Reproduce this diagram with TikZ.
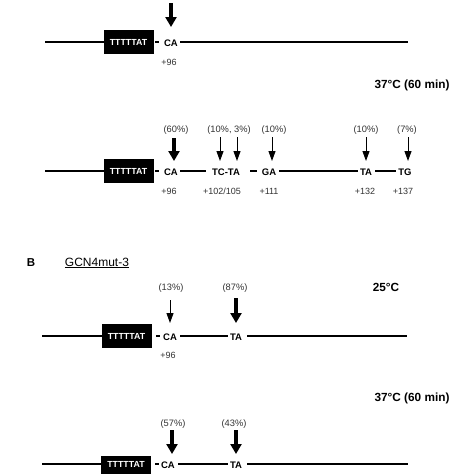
\documentclass[tikz,border=0pt]{standalone}
\usepackage{fontspec}
\setmainfont{Liberation Sans}
\usetikzlibrary{arrows.meta}
\begin{document}
\begin{tikzpicture}[x=1pt,y=-1pt,
  dna/.style={line width=1.7pt},
  boxonly/.style={fill=black,draw=black,minimum width=49pt,minimum height=23pt,inner sep=0pt},
  tata/.style={boxonly,text=white,font=\bfseries\fontsize{8.8}{9}\selectfont},
  boxtext/.style={inner sep=0pt,text=white,font=\bfseries\fontsize{8.8}{9}\selectfont},
  site/.style={inner sep=0pt,font=\bfseries\fontsize{9.5}{10}\selectfont},
  posnum/.style={inner sep=0pt,font=\fontsize{9}{10}\selectfont,text=black!80},
  pct/.style={inner sep=0pt,font=\fontsize{9.3}{10}\selectfont,text=black!80},
  cond/.style={inner sep=0pt,font=\bfseries\fontsize{11.8}{13}\selectfont},
  thickarrow/.style={line width=3.6pt,-{Triangle[width=11pt,length=10pt]}},
  thinarrow/.style={line width=1pt,-{Triangle[width=7pt,length=10pt]}}]
\useasboundingbox (0,0) rectangle (474,474);
\clip (0,0) rectangle (474,474);
\fill[white] (0,0) rectangle (474,474);

% ---------- Row 1 ----------
\coordinate (r1s) at (45,42);
\coordinate (r1e) at (408,42);
\node[tata] (box1) at (128.5,42) {TTTTTAT};
\node[site] (ca1) at (171,43) {CA};
\node[posnum] (p1) at (169,62) {+96};
\coordinate (d1a) at (155,42);
\coordinate (d1b) at (159,42);
\coordinate (l1a) at (180,42);
\draw[dna] (r1s) -- (box1.west);
\draw[dna] (d1a) -- (d1b);
\draw[dna] (l1a) -- (r1e);
\coordinate (a1t) at (171,3);
\coordinate (a1h) at (171,27);
\draw[thickarrow] (a1t) -- (a1h);
\node[cond] (c1) at (412,85) {37°C (60 min)};

% ---------- Row 2 ----------
\coordinate (r2s) at (45,171);
\node[tata] (box2) at (128.5,171) {TTTTTAT};
\coordinate (d2a) at (155,171);
\coordinate (d2b) at (159,171);
\node[site] (ca2) at (171,172) {CA};
\node[site] (tcta) at (226,172) {TC-TA};
\node[site] (ga) at (269,172) {GA};
\node[site] (ta2) at (366,172) {TA};
\node[site] (tg) at (405,172) {TG};
\draw[dna] (r2s) -- (box2.west);
\draw[dna] (d2a) -- (d2b);
\coordinate (l2a) at (180,171); \coordinate (l2b) at (206,171);
\draw[dna] (l2a) -- (l2b);
\coordinate (l2c) at (250,171); \coordinate (l2d) at (257,171);
\draw[dna] (l2c) -- (l2d);
\coordinate (l2e) at (279,171); \coordinate (l2f) at (358,171);
\draw[dna] (l2e) -- (l2f);
\coordinate (l2g) at (375,171); \coordinate (l2h) at (396,171);
\draw[dna] (l2g) -- (l2h);

\node[pct] (q60) at (176,130) {(60\%)};
\node[pct] (q103) at (229,130) {(10\%, 3\%)};
\node[pct] (q10a) at (274,130) {(10\%)};
\node[pct] (q10b) at (366,130) {(10\%)};
\node[pct] (q7) at (407,130) {(7\%)};

\coordinate (a2t) at (174,138); \coordinate (a2h) at (174,161);
\draw[thickarrow] (a2t) -- (a2h);
\coordinate (a3t) at (220,137); \coordinate (a3h) at (220,161);
\draw[thinarrow] (a3t) -- (a3h);
\coordinate (a4t) at (237,137); \coordinate (a4h) at (237,161);
\draw[thinarrow] (a4t) -- (a4h);
\coordinate (a5t) at (272,137); \coordinate (a5h) at (272,161);
\draw[thinarrow] (a5t) -- (a5h);
\coordinate (a6t) at (366,137); \coordinate (a6h) at (366,161);
\draw[thinarrow] (a6t) -- (a6h);
\coordinate (a7t) at (408,137); \coordinate (a7h) at (408,161);
\draw[thinarrow] (a7t) -- (a7h);

\node[posnum] (n96b) at (169,191) {+96};
\node[posnum] (n102) at (222,191) {+102/105};
\node[posnum] (n111) at (269,191) {+111};
\node[posnum] (n132) at (365,191) {+132};
\node[posnum] (n137) at (403,191) {+137};

% ---------- Panel B ----------
\node[inner sep=0pt,font=\bfseries\fontsize{11.5}{12}\selectfont] (labB) at (31,263) {B};
\node[inner sep=0pt,font=\fontsize{12}{13}\selectfont] (gcn) at (97,263) {\underline{GCN4mut-3}};

\node[pct] (q13) at (171,288) {(13\%)};
\node[pct] (q87) at (235,288) {(87\%)};
\node[cond] (c25) at (386,287) {25°C};

\coordinate (b1t) at (170,300); \coordinate (b1h) at (170,323);
\draw[thinarrow] (b1t) -- (b1h);
\coordinate (b2t) at (236,298); \coordinate (b2h) at (236,323);
\draw[thickarrow] (b2t) -- (b2h);

\coordinate (r3s) at (42,336);
\node[tata] (box3) at (126.5,336) {TTTTTAT};
\coordinate (d3a) at (156,336); \coordinate (d3b) at (160,336);
\node[site] (ca3) at (170,337) {CA};
\node[site] (ta3) at (236,337) {TA};
\node[posnum] (n96c) at (168,355) {+96};
\draw[dna] (r3s) -- (box3.west);
\draw[dna] (d3a) -- (d3b);
\coordinate (l3a) at (180,336); \coordinate (l3b) at (228,336);
\draw[dna] (l3a) -- (l3b);
\coordinate (l3c) at (247,336); \coordinate (l3d) at (407,336);
\draw[dna] (l3c) -- (l3d);

% ---------- Row 4 ----------
\node[cond] (c4) at (412,398) {37°C (60 min)};
\node[pct] (q57) at (173,424) {(57\%)};
\node[pct] (q43) at (234,424) {(43\%)};
\coordinate (b3t) at (172,430); \coordinate (b3h) at (172,454);
\draw[thickarrow] (b3t) -- (b3h);
\coordinate (b4t) at (236,430); \coordinate (b4h) at (236,454);
\draw[thickarrow] (b4t) -- (b4h);

\coordinate (r4s) at (42,464);
\node[boxonly] (box4) at (126,468) {};
\node[boxtext] (t4) at (126,464.5) {TTTTTAT};
\coordinate (b4w) at (box4.west |- r4s);
\coordinate (d4a) at (155,464); \coordinate (d4b) at (159,464);
\node[site] (ca4) at (168,465) {CA};
\node[site] (ta4) at (236,465) {TA};
\draw[dna] (r4s) -- (b4w);
\draw[dna] (d4a) -- (d4b);
\coordinate (l4a) at (178,464); \coordinate (l4b) at (228,464);
\draw[dna] (l4a) -- (l4b);
\coordinate (l4c) at (247,464); \coordinate (l4d) at (408,464);
\draw[dna] (l4c) -- (l4d);
\end{tikzpicture}
\end{document}
